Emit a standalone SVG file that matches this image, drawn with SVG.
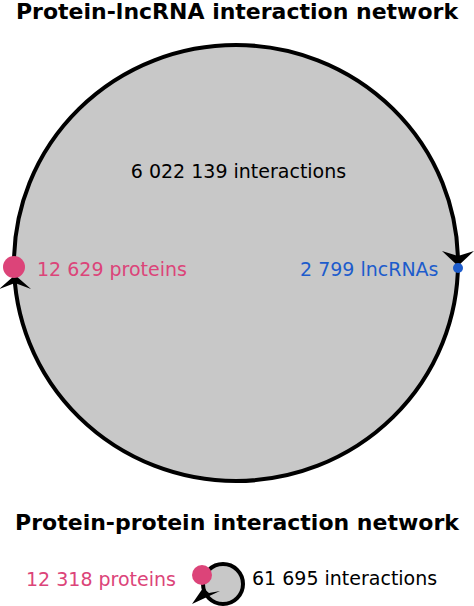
<svg xmlns="http://www.w3.org/2000/svg" width="474" height="606" viewBox="0 0 474 606">
<style>
.title{font-family:"DejaVu Sans",sans-serif;font-weight:bold;font-size:22px;fill:#000;text-anchor:middle}
.lbl{font-family:"DejaVu Sans",sans-serif;font-size:19px}
.pink{fill:#dc4479}
.blue{fill:#1d5ccc}
.edge{fill:#c8c8c8;stroke:#000;stroke-width:4}
.head{fill:#000}
</style>
<rect width="474" height="606" fill="#fff"/>
<text class="title" x="237" y="19">Protein-lncRNA interaction network</text>
<g id="connectors">
<ellipse class="edge" cx="236" cy="263" rx="222" ry="218"/>
<path class="head" d="M458,266 L474,251 L458,256 L442,251 Z"/>
<path class="head" d="M15,275 L31,289 L15,283 L-1,289 Z"/>
<circle class="edge" cx="223" cy="584" r="20"/>
<path class="head" d="M192,604 L203,588 L209,593 L220,591 Z"/>
</g>
<text class="lbl" x="238.5" y="178" text-anchor="middle">6 022 139 interactions</text>
<g id="protein-node">
<circle class="pink" cx="14" cy="267" r="11"/>
<text class="lbl pink" x="37" y="276">12 629 proteins</text>
</g>
<g id="lncrna-node">
<circle class="blue" cx="458" cy="268" r="5"/>
<text class="lbl blue" x="300" y="276">2 799 lncRNAs</text>
</g>
<text class="title" x="237" y="530">Protein-protein interaction network</text>
<g id="ppi-node">
<circle class="pink" cx="202" cy="575" r="10"/>
<text class="lbl pink" x="26" y="586">12 318 proteins</text>
</g>
<text class="lbl" x="252" y="585">61 695 interactions</text>
</svg>
